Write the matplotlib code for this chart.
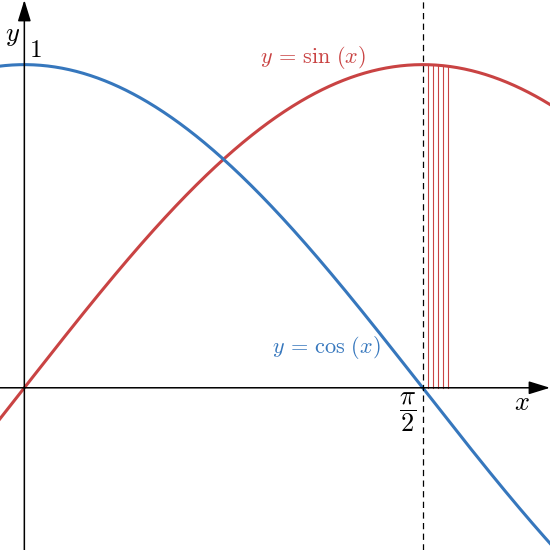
import numpy as np
import matplotlib
matplotlib.use("Agg")
from matplotlib import pyplot as plt

plt.rcParams['mathtext.fontset'] = 'cm'
plt.rcParams['font.family'] = 'serif'

red = '#c94343'
blue = '#3677bd'

x = np.linspace(-0.2, 2.2, 600)
# thin lines just right of pi/2, from the x axis up to sin
offsets = [0.02, 0.04, 0.06, 0.08, 0.10]
xmin, xmax = -0.096, 2.073
ymin, ymax = -0.502, 1.2

fig = plt.figure(figsize=(5.5, 5.5), dpi=100)
ax = fig.add_axes([0, 0, 1, 1])
ax.set_xlim(xmin, xmax)
ax.set_ylim(ymin, ymax)
ax.axis('off')

for d in offsets:
    xv = np.pi/2 + d
    ax.plot([xv, xv], [0, np.sin(xv)], color=red, lw=0.8)

ax.plot(x, np.sin(x), color=red, lw=2.2)
ax.plot(x, np.cos(x), color=blue, lw=2.2)

ax.axvline(np.pi/2, color='black', lw=0.9, ls=(0, (5, 3.5)))

# axes with arrows
ax.annotate('', xy=(xmax, 0), xytext=(xmin, 0),
            arrowprops=dict(arrowstyle='-|>,head_length=1.3,head_width=0.4', color='black', lw=1.1,
                            shrinkA=0, shrinkB=0))
ax.annotate('', xy=(0, ymax), xytext=(0, ymin),
            arrowprops=dict(arrowstyle='-|>,head_length=1.3,head_width=0.4', color='black', lw=1.1,
                            shrinkA=0, shrinkB=0))

ax.text(1.962, -0.045, r'$x$', fontsize=19, ha='center', va='center')
ax.text(-0.045, 1.09, r'$y$', fontsize=19, ha='center', va='center')
ax.text(0.045, 1.045, r'$1$', fontsize=18, ha='center', va='center')
ax.text(1.513, -0.076, r'$\dfrac{\pi}{2}$', fontsize=19, ha='center', va='center')

ax.text(1.138, 1.021, r'$y\,=\,\sin\,(x)$', fontsize=16, color=red, ha='center', va='center')
ax.text(1.19, 0.126, r'$y\,=\,\cos\,(x)$', fontsize=16, color=blue, ha='center', va='center')

plt.savefig('out.png', dpi=100)
